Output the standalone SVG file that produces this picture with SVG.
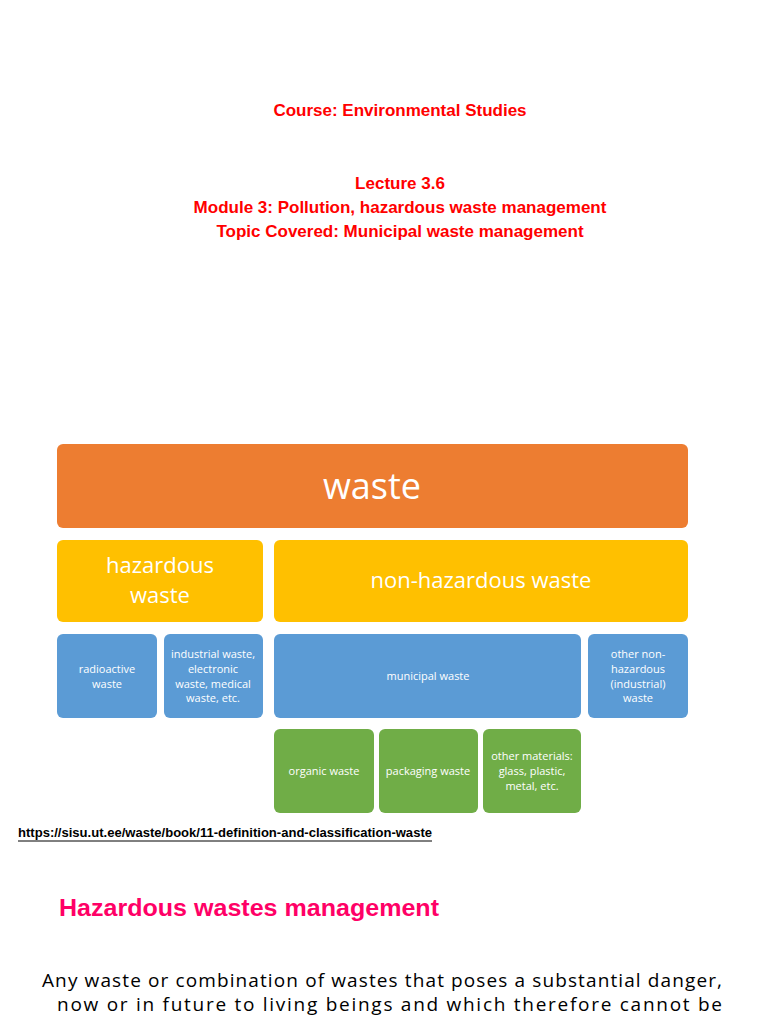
<svg xmlns="http://www.w3.org/2000/svg" width="768" height="1024" viewBox="0 0 768 1024">
<style>
.t{font-family:"Liberation Sans",Arial,sans-serif;font-weight:bold;fill:#ff0000;font-size:17px;text-anchor:middle}
.n{font-family:"Open Sans",sans-serif;fill:#fff;text-anchor:middle}
.s{font-size:11px}
.o{fill:#ed7d31}.y{fill:#ffc000}.b{fill:#5b9bd5}.g{fill:#70ad47}
.p{font-family:"Open Sans",sans-serif;font-size:19px;fill:#000}
</style>
<rect width="768" height="1024" fill="#fff"/>
<text class="t" x="400" y="116">Course: Environmental Studies</text>
<text class="t" x="400" y="189">Lecture 3.6</text>
<text class="t" x="400" y="213">Module 3: Pollution, hazardous waste management</text>
<text class="t" x="400" y="237">Topic Covered: Municipal waste management</text>
<g id="waste"><rect class="o" x="57" y="444" width="631" height="84" rx="6"/><text class="n" x="372" y="499" font-size="36">waste</text></g>
<g id="hazardous"><rect class="y" x="57" y="540" width="206" height="82" rx="6"/><text class="n" x="160" y="573" font-size="22">hazardous</text><text class="n" x="160" y="603" font-size="22">waste</text></g>
<g id="nonhazardous"><rect class="y" x="274" y="540" width="414" height="82" rx="6"/><text class="n" x="481" y="588" font-size="22">non-hazardous waste</text></g>
<g id="radioactive"><rect class="b" x="57" y="634" width="100" height="84" rx="6"/><text class="n s" x="107" y="673">radioactive</text><text class="n s" x="107" y="688">waste</text></g>
<g id="industrial"><rect class="b" x="164" y="634" width="99" height="84" rx="6"/><text class="n s" x="213" y="658">industrial waste,</text><text class="n s" x="213" y="673">electronic</text><text class="n s" x="213" y="688">waste, medical</text><text class="n s" x="213" y="702">waste, etc.</text></g>
<g id="municipal"><rect class="b" x="274" y="634" width="307" height="84" rx="6"/><text class="n s" x="428" y="680">municipal waste</text></g>
<g id="othernon"><rect class="b" x="588" y="634" width="100" height="84" rx="6"/><text class="n s" x="638" y="658">other non-</text><text class="n s" x="638" y="673">hazardous</text><text class="n s" x="638" y="688">(industrial)</text><text class="n s" x="638" y="702">waste</text></g>
<g id="organic"><rect class="g" x="274" y="729" width="100" height="84" rx="6"/><text class="n s" x="324" y="775">organic waste</text></g>
<g id="packaging"><rect class="g" x="379" y="729" width="99" height="84" rx="6"/><text class="n s" x="428" y="775">packaging waste</text></g>
<g id="othermat"><rect class="g" x="483" y="729" width="98" height="84" rx="6"/><text class="n s" x="532" y="760">other materials:</text><text class="n s" x="532" y="775">glass, plastic,</text><text class="n s" x="532" y="790">metal, etc.</text></g>
<g id="connectors"/>
<text x="18" y="837" font-family="Liberation Sans,sans-serif" font-weight="bold" font-size="12" fill="#000" textLength="414" lengthAdjust="spacingAndGlyphs">https://sisu.ut.ee/waste/book/11-definition-and-classification-waste</text>
<line x1="18" y1="841" x2="432" y2="841" stroke="#000" stroke-width="1"/>
<text x="59" y="916" font-family="Liberation Sans,sans-serif" font-weight="bold" font-size="23" fill="#ff0066" textLength="380" lengthAdjust="spacingAndGlyphs">Hazardous wastes management</text>
<text class="p" x="42" y="987" textLength="680" lengthAdjust="spacing">Any waste or combination of wastes that poses a substantial danger,</text>
<text class="p" x="57" y="1011" textLength="665" lengthAdjust="spacing">now or in future to living beings and which therefore cannot be</text>
</svg>
